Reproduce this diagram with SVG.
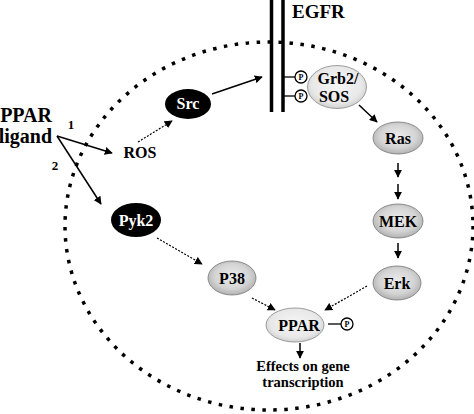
<svg xmlns="http://www.w3.org/2000/svg" width="474" height="414" viewBox="0 0 474 414" font-family="'Liberation Serif', 'Times New Roman', serif">
<defs>
<radialGradient id="g1" cx="50%" cy="45%" r="60%">
<stop offset="0" stop-color="#ececec"/><stop offset="0.6" stop-color="#d4d4d4"/><stop offset="1" stop-color="#a9a9a9"/>
</radialGradient>
<radialGradient id="g2" cx="50%" cy="45%" r="60%">
<stop offset="0" stop-color="#f6f6f6"/><stop offset="0.7" stop-color="#e8e8e8"/><stop offset="1" stop-color="#c8c8c8"/>
</radialGradient>
<marker id="ah" viewBox="0 0 10 10" refX="9" refY="5" markerWidth="8" markerHeight="8" markerUnits="userSpaceOnUse" orient="auto">
<path d="M0,0 L10,5 L0,10 Z" fill="#000"/>
</marker>
</defs>
<style>
text{font-family:"Liberation Serif","Times New Roman",serif;font-weight:bold;fill:#000}
.lbl{font-size:16px;text-anchor:middle}
.w{fill:#fff}
.gr{fill:url(#g1);stroke:#777;stroke-width:0.8}
.lt{fill:url(#g2);stroke:#888;stroke-width:0.8}
.bk{fill:#000}
.s{stroke:#000;stroke-width:1.5;fill:none;marker-end:url(#ah)}
.d{stroke:#000;stroke-width:1.2;stroke-dasharray:2 1.5;fill:none;marker-end:url(#ah)}
.pc{fill:#fff;stroke:#000;stroke-width:1.3}
.pt{font-size:8px;text-anchor:middle}
</style>
<rect width="474" height="414" fill="#fff"/>
<g id="cell">
<ellipse cx="269" cy="226" rx="204" ry="184" fill="none" stroke="#000" stroke-width="3.5" stroke-dasharray="3.5 7.5"/>
</g>
<g id="egfr">
<line x1="271.5" y1="0" x2="271.5" y2="112" stroke="#000" stroke-width="3.5"/>
<line x1="283" y1="0" x2="283" y2="112" stroke="#000" stroke-width="3.5"/>
<text x="292" y="18" font-size="19">EGFR</text>
<line x1="283" y1="77" x2="295" y2="77" stroke="#000" stroke-width="1.3"/>
<line x1="283" y1="96" x2="295" y2="96" stroke="#000" stroke-width="1.3"/>
<circle class="pc" cx="301" cy="77" r="6"/><text class="pt" x="301" y="80">P</text>
<circle class="pc" cx="301" cy="96" r="6"/><text class="pt" x="301" y="99">P</text>
</g>
<g id="ligand">
<text x="52" y="122" font-size="20" text-anchor="end">PPAR</text>
<text x="52" y="143" font-size="20" text-anchor="end">ligand</text>
<text x="71" y="129" font-size="13" text-anchor="middle">1</text>
<text x="55" y="170" font-size="13" text-anchor="middle">2</text>
</g>
<g id="ros"><text class="lbl" x="140" y="158" font-size="17">ROS</text></g>
<g id="src"><ellipse class="bk" cx="188" cy="104" rx="23" ry="15"/><text class="lbl w" x="188" y="109">Src</text></g>
<g id="pyk2"><ellipse class="bk" cx="136" cy="220" rx="25" ry="17"/><text class="lbl w" x="136" y="226">Pyk2</text></g>
<g id="grb2"><ellipse class="lt" cx="337" cy="87" rx="29.5" ry="21.5"/><text class="lbl" x="338" y="84" font-size="14">Grb2/</text><text class="lbl" x="334" y="102" font-size="14">SOS</text></g>
<g id="ras"><ellipse class="gr" cx="398" cy="138" rx="25" ry="16"/><text class="lbl" x="398" y="144">Ras</text></g>
<g id="mek"><ellipse class="gr" cx="398" cy="221" rx="25" ry="17"/><text class="lbl" x="398" y="227">MEK</text></g>
<g id="erk"><ellipse class="gr" cx="397" cy="283" rx="24" ry="17"/><text class="lbl" x="397" y="289">Erk</text></g>
<g id="p38"><ellipse class="gr" cx="232" cy="278" rx="24" ry="17"/><text class="lbl" x="232" y="284">P38</text></g>
<g id="ppar"><ellipse class="lt" cx="295" cy="325" rx="29" ry="17"/><text class="lbl" x="299" y="331">PPAR</text>
<line x1="328" y1="324" x2="341" y2="324" stroke="#000" stroke-width="1.3"/>
<circle class="pc" cx="347" cy="324" r="6"/><text class="pt" x="347" y="327">P</text></g>
<g id="effects">
<text x="303" y="371" font-size="14.5" text-anchor="middle">Effects on gene</text>
<text x="303" y="387" font-size="14.5" text-anchor="middle">transcription</text>
</g>
<g id="connectors">
<line class="s" x1="57" y1="136" x2="112" y2="153"/>
<line class="s" x1="57" y1="136" x2="101" y2="204"/>
<line class="d" x1="138" y1="142" x2="172" y2="121"/>
<line class="s" x1="212" y1="94" x2="262" y2="77"/>
<line class="s" x1="359" y1="105" x2="377" y2="122"/>
<line class="s" x1="398" y1="163" x2="398" y2="177"/>
<line class="s" x1="398" y1="184" x2="398" y2="199"/>
<line class="s" x1="398" y1="243" x2="398" y2="258"/>
<line class="d" x1="367" y1="286" x2="325" y2="310"/>
<line class="d" x1="252" y1="298" x2="275" y2="310"/>
<line class="d" x1="157" y1="238" x2="202" y2="264"/>
<line class="s" x1="300" y1="343" x2="300" y2="358"/>
</g>
</svg>
